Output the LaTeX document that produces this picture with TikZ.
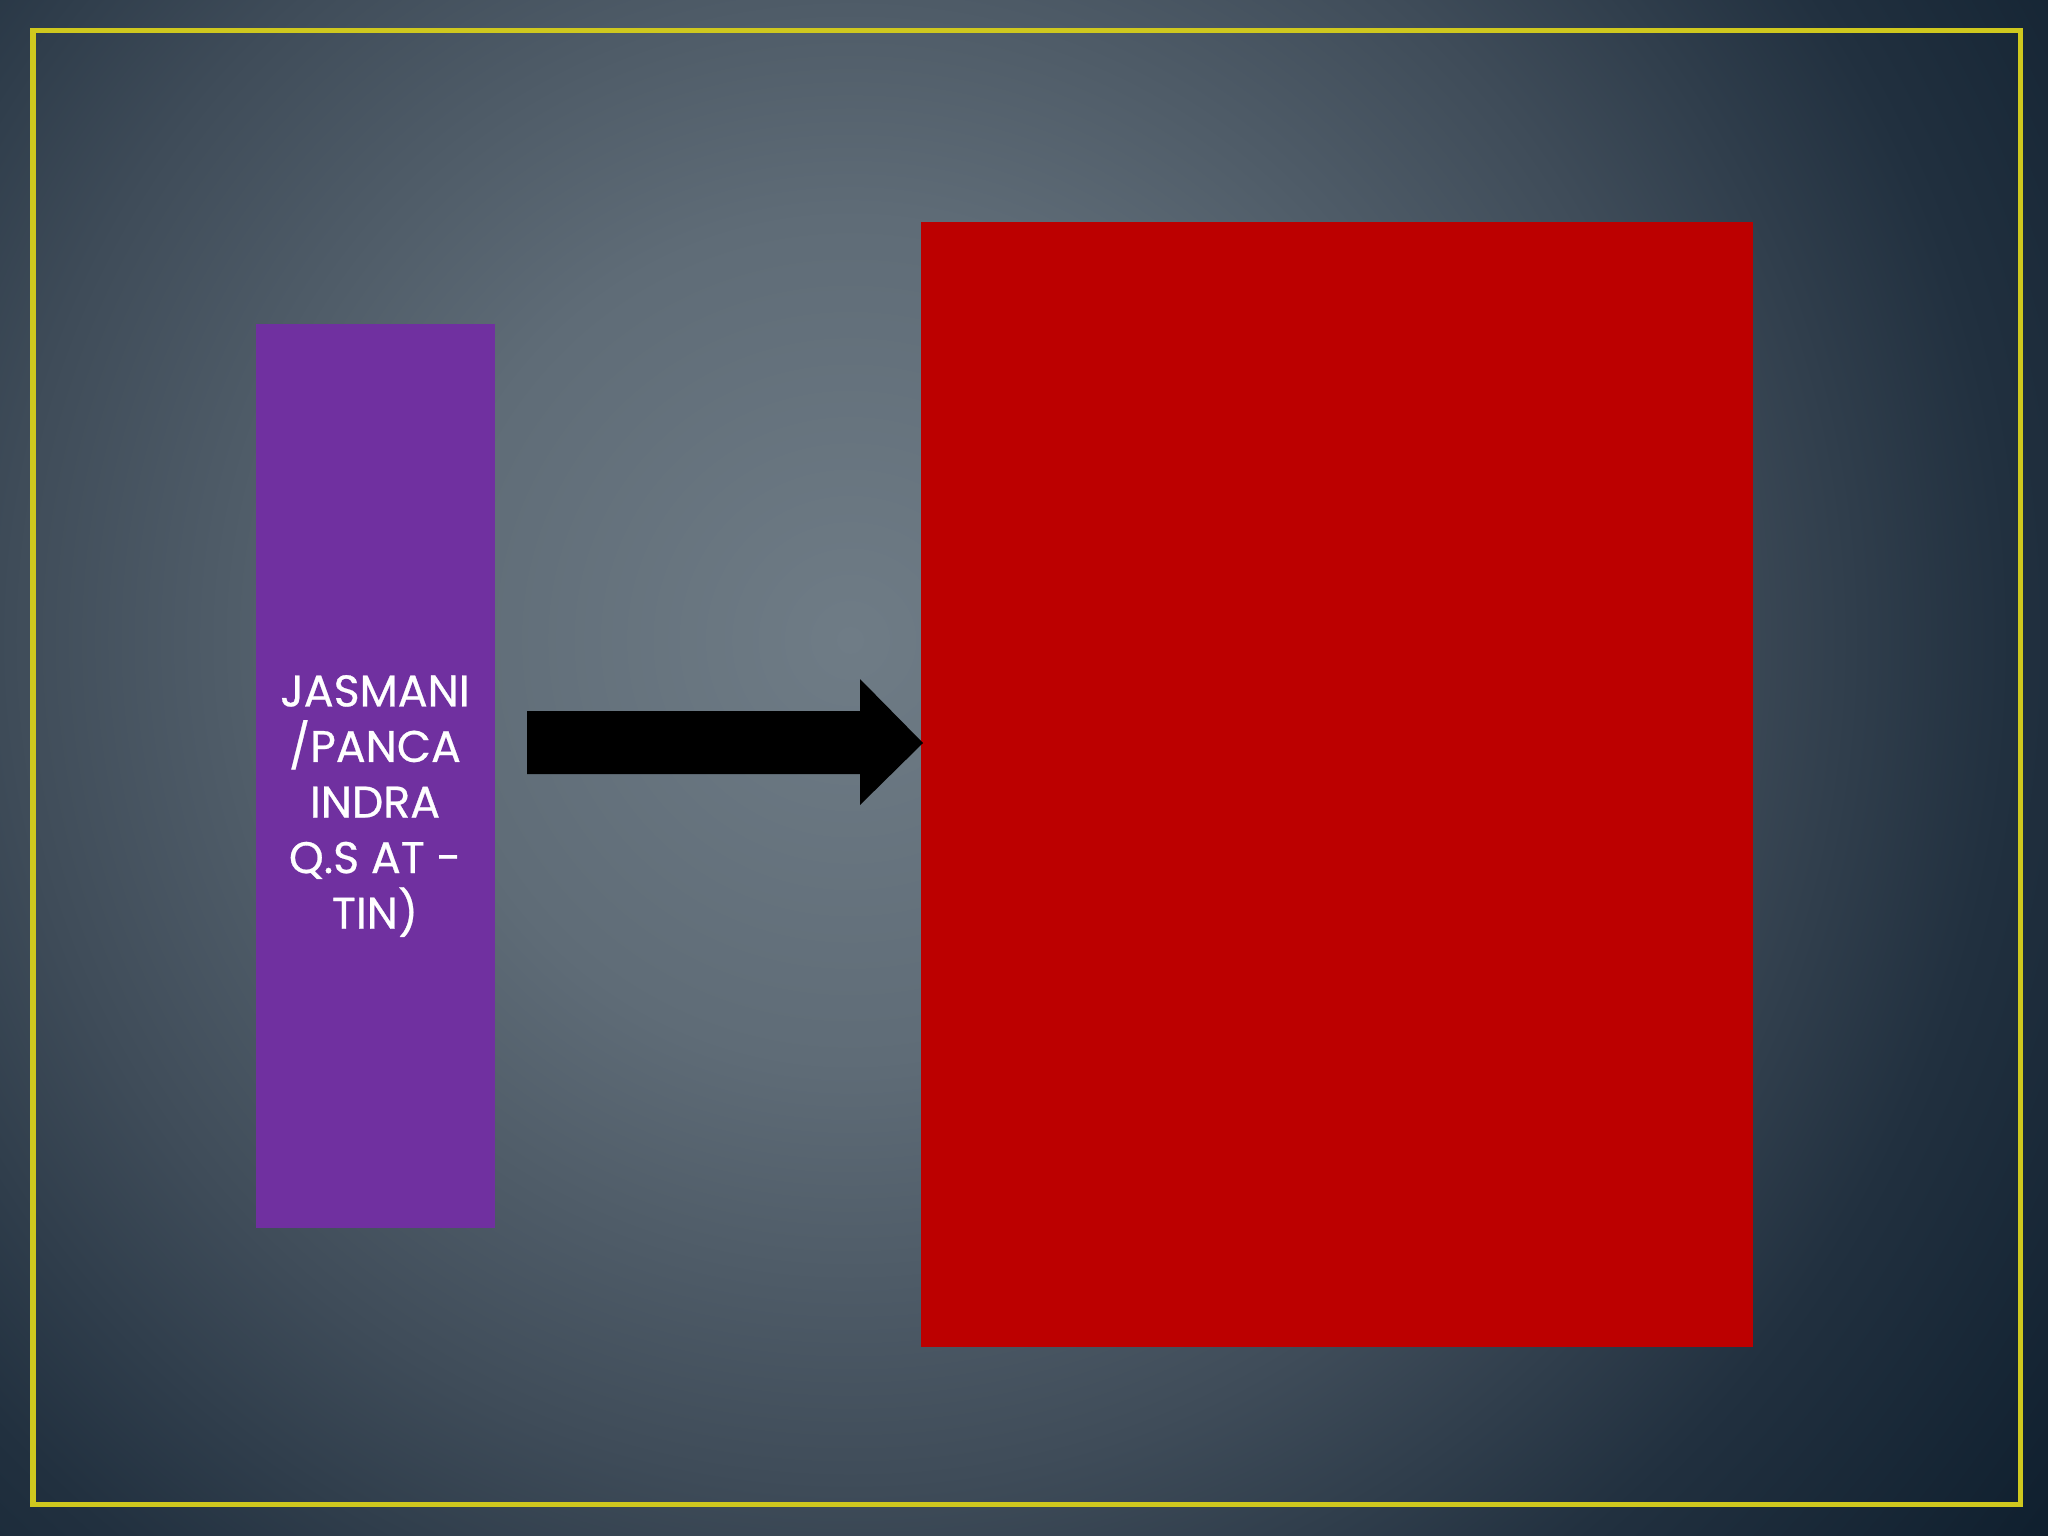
\documentclass[tikz,border=0pt]{standalone}
\usepackage{fontspec}
\setmainfont{Poppins}
\newfontfamily\lblfont{Poppins}[FakeBold=0.6]
\definecolor{bgA}{HTML}{6F7C86}
\definecolor{bgB}{HTML}{5F6C77}
\definecolor{bgC}{HTML}{3F4C59}
\definecolor{bgD}{HTML}{21303F}
\definecolor{bgE}{HTML}{0E1E2D}
\definecolor{boxpurple}{HTML}{7030A0}
\definecolor{boxred}{HTML}{BC0000}
\definecolor{frameyellow}{HTML}{CFC81E}
\pgfdeclareradialshading{bgshade}{\pgfpoint{0bp}{0bp}}{color(0bp)=(bgA); color(5.25bp)=(bgB); color(10.5bp)=(bgC); color(14.5bp)=(bgD); color(19bp)=(bgE); color(50bp)=(bgE)}
\tikzset{
  block/.style={rectangle, draw=none, inner sep=0pt, outer sep=0pt},
  lbl/.style={text=white, align=center, font=\lblfont\fontsize{12.6}{15.8}\selectfont, inner sep=0pt}
}
\begin{document}
\begin{tikzpicture}[x=0.01cm, y=-0.01cm]
\useasboundingbox (0,0) rectangle (2048,1536);
\begin{scope}
\clip (0,0) rectangle (2048,1536);
\fill[bgE] (0,0) rectangle (2048,1536);
\shade[shading=bgshade] (850,640) circle [radius=20cm];
\end{scope}
\draw[frameyellow, line width=0.05cm] (33,30) rectangle (2020,1504);
\node[block, fill=boxpurple, minimum width=2.39cm, minimum height=9.04cm] (jas) at (375.5,776) {};
\node[block, fill=boxred, minimum width=8.32cm, minimum height=11.25cm] (target) at (1337,784.5) {};
\node[lbl] (jastext) at (375,806) {JASMANI\\/PANCA\\INDRA\\Q.S AT -\\TIN)};
\fill[black] (527,711) -- (860,711) -- (860,679) -- (923,743) -- (860,805) -- (860,774) -- (527,774) -- cycle;
\end{tikzpicture}
\end{document}
